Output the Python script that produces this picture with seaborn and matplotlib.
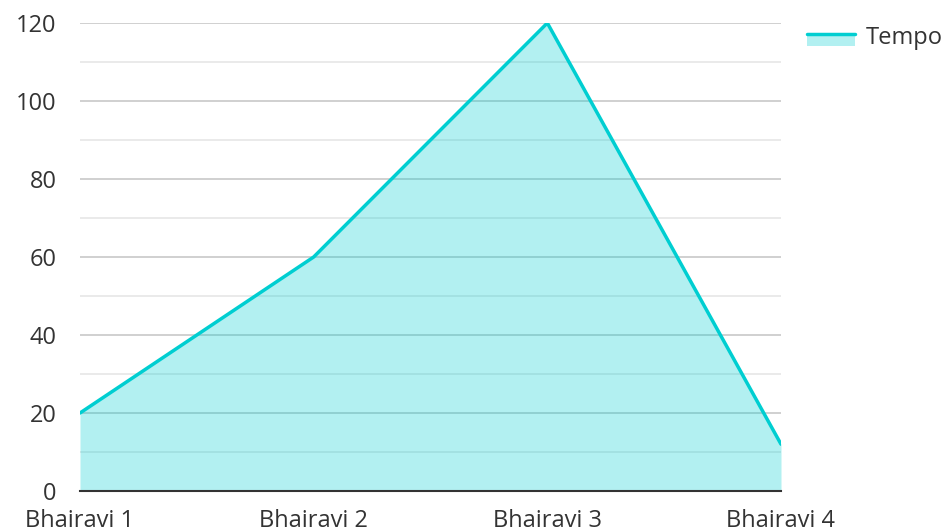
import matplotlib
matplotlib.use("Agg")
import matplotlib.pyplot as plt
import seaborn as sns
import pandas as pd
from matplotlib.patches import Rectangle
from matplotlib.lines import Line2D
from matplotlib.ticker import MultipleLocator
from matplotlib.legend_handler import HandlerBase

categories = ["Bhairavi 1", "Bhairavi 2", "Bhairavi 3", "Bhairavi 4"]
tempo = [20, 60, 120, 12]
series_name = "Tempo"

df = pd.DataFrame({"raga": categories, "tempo": tempo, "x": range(len(categories))})

sns.set_theme(style="white")
plt.rcParams['font.family'] = ['Open Sans', 'DejaVu Sans']

color = "#00CED1"
fig = plt.figure(figsize=(9.46, 5.32), dpi=100)
ax = fig.add_axes([80/946, 1 - 491/532, (781-80)/946, (491-23)/532])

ax.set_axisbelow(True)
ax.fill_between(df["x"], 0, df["tempo"], color=color, alpha=0.3, linewidth=0, zorder=2)
sns.lineplot(data=df, x="x", y="tempo", color=color, linewidth=2.5, ax=ax, zorder=3)

ax.set_xlim(0, len(categories) - 1)
ax.set_ylim(0, 120)
ax.yaxis.set_major_locator(MultipleLocator(20))
ax.yaxis.set_minor_locator(MultipleLocator(10))
ax.grid(which="major", axis="y", color="#c8c8c8", linewidth=1.2, zorder=0)
ax.grid(which="minor", axis="y", color="#e6e6e6", linewidth=1.2, zorder=0)
ax.grid(False, axis="x")
for s in ["top", "right", "left"]:
    ax.spines[s].set_visible(False)
ax.spines["bottom"].set_color("#333333")
ax.spines["bottom"].set_linewidth(1.5)
ax.spines["bottom"].set_zorder(4)

ax.set_xticks(df["x"])
ax.set_xticklabels(categories)
ax.tick_params(axis="both", which="both", length=0, labelsize=17, colors="#333333")
ax.tick_params(axis="x", pad=13)
ax.tick_params(axis="y", pad=17)
ax.set_xlabel("")
ax.set_ylabel("")


class AreaHandler(HandlerBase):
    def create_artists(self, legend, orig_handle, xdescent, ydescent, width, height, fontsize, trans):
        top = height * 0.62
        rect = Rectangle((-xdescent, -ydescent - height * 0.1), width, top + height * 0.1,
                         facecolor=color, alpha=0.3, edgecolor="none", transform=trans)
        line = Line2D([-xdescent, -xdescent + width], [-ydescent + top, -ydescent + top],
                      color=color, linewidth=2.5, transform=trans)
        return [rect, line]


proxy = Line2D([0], [0], color=color)
leg = fig.legend([proxy], [series_name], loc="upper left", bbox_to_anchor=(807/946, 1 - 26/532),
                 frameon=False, fontsize=17, handlelength=2.03, handletextpad=0.47,
                 borderpad=0, borderaxespad=0,
                 handler_map={Line2D: AreaHandler()}, labelcolor="#333333")

fig.savefig("out.png", dpi=100)
